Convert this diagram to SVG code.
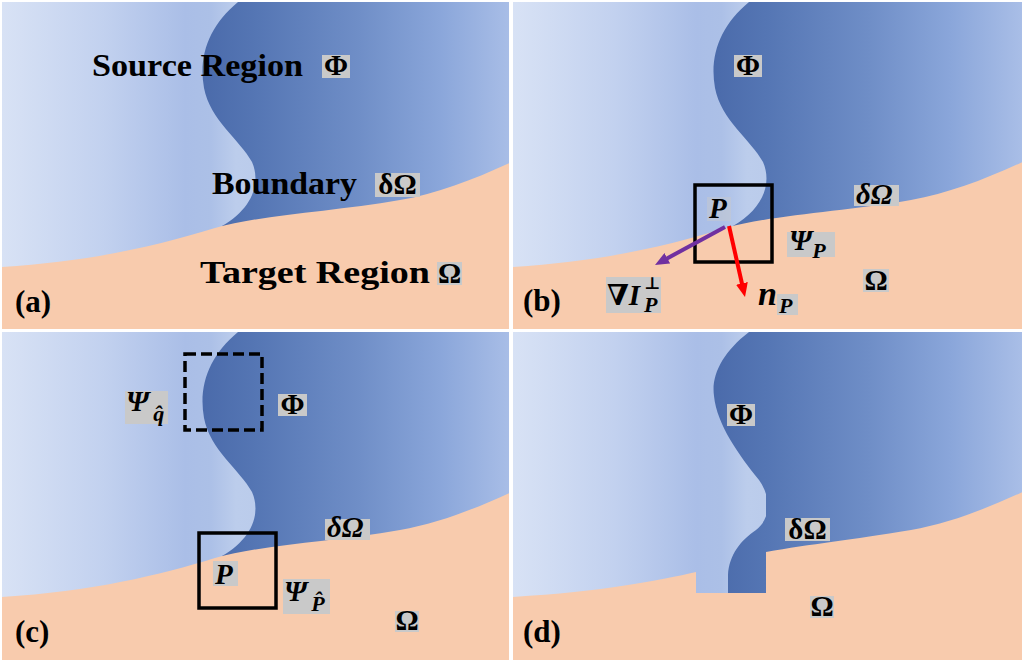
<svg xmlns="http://www.w3.org/2000/svg" width="1025" height="662" viewBox="0 0 1025 662">
<style>
.t{font-family:"Liberation Serif","DejaVu Serif",serif;font-weight:bold;fill:#000;font-size:31px}
.g{font-family:"Liberation Serif","DejaVu Serif",serif;font-weight:bold;fill:#000;font-size:29px;text-anchor:middle}
.m{font-family:"Liberation Serif","DejaVu Serif",serif;font-weight:bold;font-style:italic;fill:#000;font-size:29px}
.s{font-size:22px}
.box{fill:#c9c9c9}
.peach{fill:#f8cbad}
.light{fill:url(#lightG)}
.dark{fill:url(#darkG)}
.sq{fill:none;stroke:#000;stroke-width:3.5}
</style>
<defs>
<linearGradient id="lightG" gradientUnits="userSpaceOnUse" x1="2" y1="0" x2="511" y2="0">
<stop offset="0" stop-color="#d8e2f5"/>
<stop offset="0.2" stop-color="#c2d1ef"/>
<stop offset="0.36" stop-color="#aabee7"/>
<stop offset="0.41" stop-color="#acc0e7"/>
<stop offset="0.46" stop-color="#bccdec"/>
<stop offset="0.52" stop-color="#bacbeb"/>
<stop offset="1" stop-color="#a9bde6"/>
</linearGradient>
<linearGradient id="darkG" gradientUnits="userSpaceOnUse" x1="2" y1="0" x2="511" y2="0">
<stop offset="0" stop-color="#4a6aaa"/>
<stop offset="0.39" stop-color="#4a6aaa"/>
<stop offset="0.5" stop-color="#5576b4"/>
<stop offset="0.7" stop-color="#6f8ec7"/>
<stop offset="0.86" stop-color="#8aa6da"/>
<stop offset="1" stop-color="#a9bee7"/>
</linearGradient>
<clipPath id="clipL"><rect x="2" y="2" width="507" height="327"/></clipPath>
<clipPath id="clipR"><rect x="2" y="2" width="509" height="327"/></clipPath>
<clipPath id="clipLB"><rect x="2" y="2" width="507" height="328"/></clipPath>
<clipPath id="clipRB"><rect x="2" y="2" width="509" height="328"/></clipPath>
<marker id="arrP" markerUnits="userSpaceOnUse" viewBox="0 0 14 12" markerWidth="14" markerHeight="12" refX="4" refY="6" orient="auto"><path d="M0,0 L14,6 L0,12 z" fill="#7030a0"/></marker>
<marker id="arrR" markerUnits="userSpaceOnUse" viewBox="0 0 14 12" markerWidth="14" markerHeight="12" refX="4" refY="6" orient="auto"><path d="M0,0 L14,6 L0,12 z" fill="#ff0000"/></marker>
</defs>
<rect width="1025" height="662" fill="#fff"/>

<!-- Panel (a) -->
<g id="panel-a" clip-path="url(#clipL)">
<rect class="light" x="2" y="2" width="520" height="330"/>
<path class="dark" d="M238,2 C210,25 198,55 204,88 C210,120 240,140 252,162 C262,185 250,210 222,226 L215,320 L520,320 L520,2 Z"/>
<path class="peach" d="M0,267 C90,262 160,245 215,228 C260,215 330,212 400,200 C440,193 480,177 520,158 L520,340 L0,340 Z"/>
<g id="label-source"><text class="t" x="92" y="76" textLength="211" lengthAdjust="spacingAndGlyphs">Source Region</text>
<rect class="box" x="322" y="55" width="28" height="23"/><text class="g" x="336" y="75">Φ</text></g>
<g id="label-boundary"><text class="t" x="212" y="194" textLength="145" lengthAdjust="spacingAndGlyphs">Boundary</text>
<rect class="box" x="375" y="173" width="45" height="24"/><text class="g" x="397.5" y="194">δΩ</text></g>
<g id="label-target"><text class="t" x="200" y="283" textLength="230" lengthAdjust="spacingAndGlyphs">Target Region</text>
<rect class="box" x="437" y="262" width="25" height="23"/><text class="g" x="449.5" y="283">Ω</text></g>
<text class="t" x="15" y="312" font-size="30">(a)</text>
</g>

<!-- Panel (b) -->
<g id="panel-b" transform="translate(511,0)">
<g clip-path="url(#clipR)">
<rect class="light" x="2" y="2" width="520" height="330"/>
<path class="dark" d="M238,2 C210,25 198,55 204,88 C210,120 240,140 252,162 C262,185 250,210 222,226 L215,320 L520,320 L520,2 Z"/>
<path class="peach" d="M0,267 C90,262 160,245 215,228 C260,215 330,212 400,200 C440,193 480,177 520,158 L520,340 L0,340 Z"/>
</g>
<g id="b-phi"><rect class="box" x="223" y="55" width="28" height="22"/><text class="g" x="237" y="75">Φ</text></g>
<g id="b-boundary"><rect class="box" x="343" y="185" width="45" height="21"/><text class="m" x="345" y="204">δΩ</text></g>
<g id="b-patch"><rect class="sq" x="184" y="185" width="77" height="77"/>
<rect x="196" y="197" width="24" height="24" fill="#c9c9c9" opacity="0.45"/>
<text class="m" x="198" y="218" font-size="30">P</text></g>
<g id="b-psi"><rect class="box" x="276" y="232" width="48" height="25"/><text class="m" x="278" y="250" font-size="28">Ψ<tspan class="s" dy="8">P</tspan></text></g>
<g id="b-omega"><rect class="box" x="352" y="269" width="26" height="23"/><text class="g" x="365" y="290">Ω</text></g>
<g id="b-grad"><rect class="box" x="95" y="277" width="55" height="36"/>
<text class="m" x="96" y="305" font-size="28">∇I<tspan x="133" y="289" font-family="'DejaVu Serif',serif" font-style="normal" style="font-size:17px">⊥</tspan><tspan x="133" y="312" style="font-size:22px">P</tspan></text></g>
<g id="b-normal"><rect class="box" x="266" y="294" width="21" height="21"/>
<text class="m" x="247" y="305" style="font-size:34px">n<tspan x="268" y="313" style="font-size:22px">P</tspan></text></g>
<text class="t" x="12" y="311" font-size="30">(b)</text>
</g>

<!-- Panel (c) -->
<g id="panel-c" transform="translate(0,330)">
<g clip-path="url(#clipLB)">
<rect class="light" x="2" y="2" width="520" height="330"/>
<path class="dark" d="M238,2 C210,25 198,55 204,88 C210,120 240,140 252,162 C262,185 250,210 222,226 L215,320 L520,320 L520,2 Z"/>
<path class="peach" d="M0,267 C90,262 160,245 215,228 C260,215 330,212 400,200 C440,193 480,177 520,158 L520,340 L0,340 Z"/>
</g>
<g id="c-source-patch"><rect class="sq" x="185" y="24" width="77" height="76" stroke-dasharray="11 5"/></g>
<g id="c-psiq"><rect class="box" x="125" y="61" width="43" height="33"/><text class="m" x="126" y="81" font-size="28">Ψ<tspan class="s" dx="4" dy="10">q̂</tspan></text></g>
<g id="c-phi"><rect class="box" x="278" y="64" width="29" height="22"/><text class="g" x="292.5" y="84">Φ</text></g>
<g id="c-boundary"><rect class="box" x="325" y="189" width="45" height="21"/><text class="m" x="327" y="207">δΩ</text></g>
<g id="c-patch"><rect class="sq" x="199" y="203" width="77" height="75"/>
<rect class="box" x="213" y="231" width="25" height="25"/><text class="m" x="215" y="254" font-size="30">P</text></g>
<g id="c-psip"><rect class="box" x="283" y="249" width="47" height="35"/><text class="m" x="284" y="271" font-size="28">Ψ<tspan class="s" dx="4" dy="10">P̂</tspan></text></g>
<g id="c-omega"><rect class="box" x="395" y="281" width="24" height="21"/><text class="g" x="407" y="300">Ω</text></g>
<text class="t" x="15" y="312" font-size="30">(c)</text>
</g>

<!-- Panel (d) -->
<g id="panel-d" transform="translate(511,330)">
<g clip-path="url(#clipRB)">
<rect class="light" x="2" y="2" width="520" height="330"/>
<path class="dark" d="M238,2 C212,22 200,45 203,66 C206,95 228,125 248,150 C262,170 258,190 245,200 C230,210 218,225 217,245 L217,263 L255,263 L255,150 L520,150 L520,2 Z"/>
<path class="dark" d="M255,140 L520,140 L520,240 L255,240 Z"/>
<path class="peach" d="M0,267 C90,262 150,250 185,242 L185,263 L255,263 L255,222 C300,214 340,210 400,200 C440,193 480,177 520,158 L520,340 L0,340 Z"/>
</g>
<g id="d-phi"><rect class="box" x="216" y="74" width="28" height="22"/><text class="g" x="230" y="94">Φ</text></g>
<g id="d-boundary"><rect class="box" x="274" y="188" width="45" height="23"/><text class="g" x="296.5" y="209">δΩ</text></g>
<g id="d-omega"><rect class="box" x="299" y="266" width="24" height="22"/><text class="g" x="311" y="286">Ω</text></g>
<text class="t" x="12" y="312" font-size="30">(d)</text>
</g>

<!-- connectors -->
<g id="connectors" transform="translate(511,0)" stroke-width="4" fill="none">
<line x1="214" y1="227" x2="152.8" y2="260.2" stroke="#7030a0" marker-end="url(#arrP)"/>
<line x1="218" y1="226" x2="231.8" y2="287.3" stroke="#ff0000" marker-end="url(#arrR)"/>
</g>
</svg>
